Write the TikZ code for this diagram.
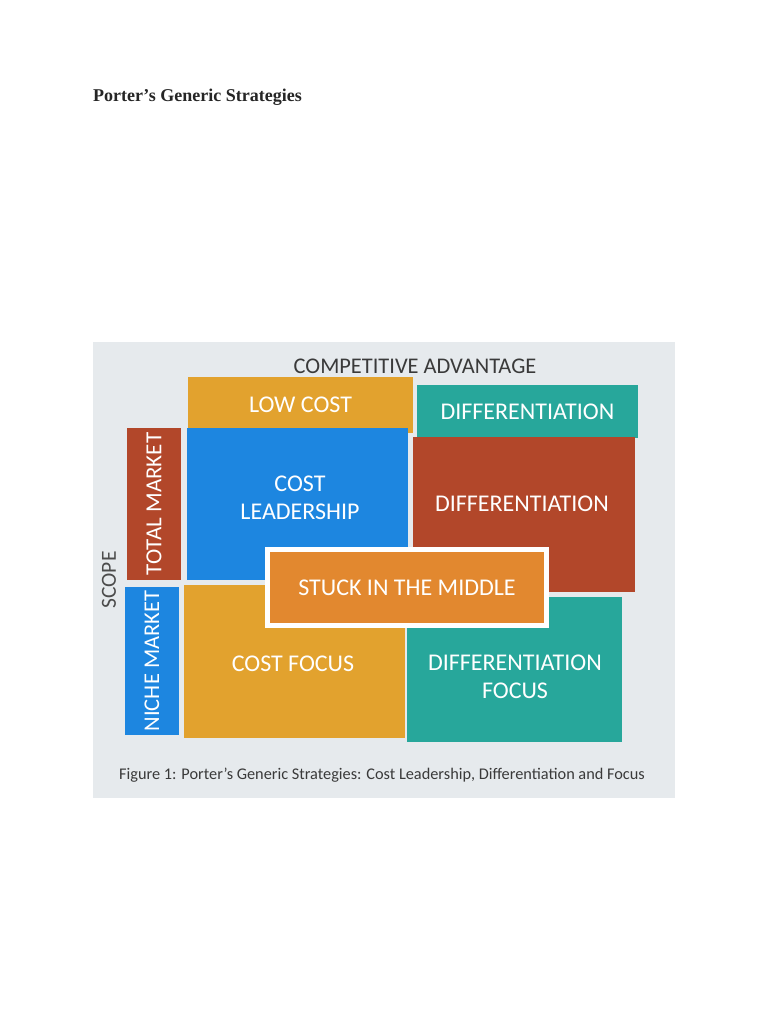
\documentclass[tikz,border=0pt]{standalone}
\usepackage{fontspec}
\setmainfont{Liberation Serif}
\newfontfamily\slidefont{Carlito}
\definecolor{photobg}{HTML}{E6EAED}
\definecolor{goldc}{HTML}{E2A22E}
\definecolor{tealc}{HTML}{27A79B}
\definecolor{rustc}{HTML}{B2472A}
\definecolor{bluec}{HTML}{1D86E0}
\definecolor{orangec}{HTML}{E2882F}
\definecolor{inkc}{HTML}{3A3A3A}
\begin{document}
\begin{tikzpicture}[x=1pt,y=-1pt,
  tile/.style={draw=none, inner sep=0pt, align=center, text=white,
    font=\slidefont\fontsize{24}{28}\selectfont},
  sidetile/.style={tile, font=\slidefont\fontsize{23}{25}\selectfont},
  label/.style={inner sep=0pt, text=inkc, font=\slidefont\fontsize{22.4}{24}\selectfont}]
\useasboundingbox[fill=white] (0,0) rectangle (768,1024);
\node[anchor=west, inner sep=0pt, font=\bfseries\fontsize{18}{20}\selectfont, text=black!85] (title) at (93,97) {Porter’s Generic Strategies};
\node[fill=photobg, minimum width=582pt, minimum height=456pt, inner sep=0pt] (photo) at (384,570) {};
\node[label] (ca) at (415,366) {COMPETITIVE ADVANTAGE};
\node[tile, fill=goldc, minimum width=225pt, minimum height=56pt] (lowcost) at (300.5,405) {LOW COST};
\node[tile, fill=tealc, minimum width=221pt, minimum height=53pt] (difftop) at (527.5,411.5) {DIFFERENTIATION};
\node[sidetile, fill=rustc, minimum width=152pt, minimum height=54pt, rotate=90] (total) at (154,504) {TOTAL MARKET};
\node[sidetile, fill=bluec, minimum width=148pt, minimum height=54pt, rotate=90, font=\slidefont\fontsize{22.5}{24}\selectfont] (niche) at (152,661) {NICHE MARKET};
\node[label, rotate=90, font=\slidefont\fontsize{21.5}{23}\selectfont, text=black!70] (scope) at (109,580) {SCOPE};
\node[tile, fill=bluec, minimum width=221pt, minimum height=152pt] (costlead) at (297.5,504) {};
\node[tile] (costleadt) at (300,498) {COST\\LEADERSHIP};
\node[tile, fill=rustc, minimum width=222pt, minimum height=155pt] (diffmid) at (524,514.5) {};
\node[tile] (diffmidt) at (522,504) {DIFFERENTIATION};
\node[tile, fill=goldc, minimum width=221pt, minimum height=153pt] (costfocus) at (294.5,661.5) {};
\node[tile] (costfocust) at (293,664) {COST FOCUS};
\node[tile, fill=tealc, minimum width=215pt, minimum height=145pt] (difffocus) at (514.5,669.5) {};
\node[tile] (difffocust) at (515,677) {DIFFERENTIATION\\FOCUS};
\node[tile, fill=orangec, draw=white, line width=5pt, minimum width=279pt, minimum height=76pt] (stuck) at (407,587.5) {STUCK IN THE MIDDLE};
\node[label, font=\slidefont\fontsize{16.3}{18}\selectfont] (caption) at (382,775) {Figure 1: Porter’s Generic Strategies: Cost Leadership, Differentiation and Focus};
\end{tikzpicture}
\end{document}
